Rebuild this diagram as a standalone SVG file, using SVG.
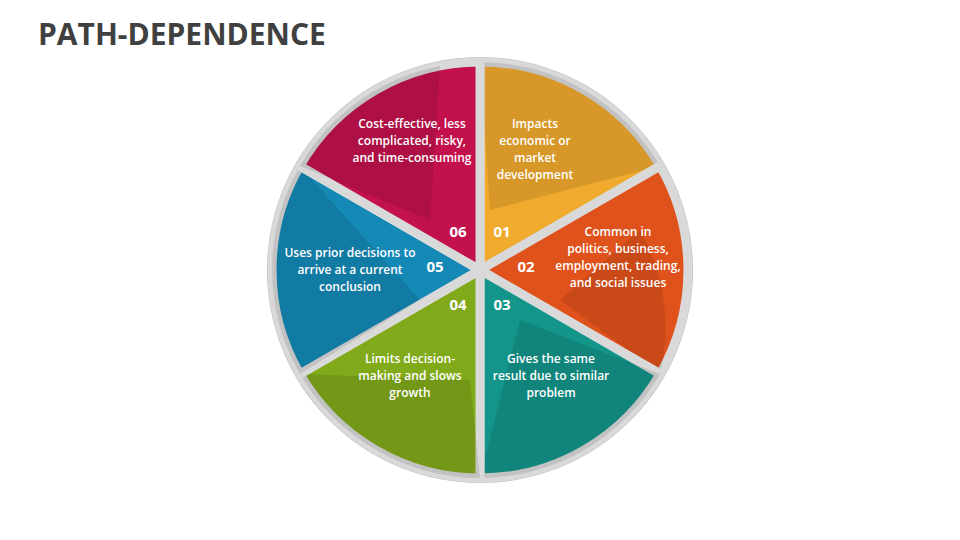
<svg xmlns="http://www.w3.org/2000/svg" width="960" height="540" viewBox="0 0 960 540">
<style>
.w{stroke:#D9D9D9;stroke-width:9;stroke-linejoin:round}
.t{font-family:"Open Sans","Liberation Sans",sans-serif;font-size:12px;font-weight:600;fill:#fff;text-anchor:middle}
.n{font-family:"Open Sans","Liberation Sans",sans-serif;font-size:15px;font-weight:700;fill:#fff;text-anchor:middle}
.s{fill:#000;opacity:0.1}
</style>
<rect width="960" height="540" fill="#fff"/>
<text x="38" y="45" font-family="'Open Sans','Liberation Sans',sans-serif" font-size="30" font-weight="700" fill="#404040">PATH-DEPENDENCE</text>
<circle cx="480" cy="270" r="212" fill="#D9D9D9" stroke="#BFBFBF" stroke-width="2"/>
<g id="n1"><path class="w" d="M480 270 L480 62 A208 208 0 0 1 660.1 166 Z" fill="#F0AA2E"/><path class="s" d="M480 62 A208 208 0 0 1 660.1 166 L490 210 Z"/>
<text class="t"><tspan x="535" y="128">Impacts</tspan><tspan x="535" y="145">economic or</tspan><tspan x="535" y="162">market</tspan><tspan x="535" y="179">development</tspan></text><text class="n" x="502" y="237">01</text></g>
<g id="n2"><path class="w" d="M480 270 L660.1 166 A208 208 0 0 1 660.1 374 Z" fill="#E0521C"/><path class="s" d="M640 230 A200 200 0 0 1 660.1 374 L560 300 Z"/>
<text class="t"><tspan x="618" y="236">Common in</tspan><tspan x="618" y="253">politics, business,</tspan><tspan x="618" y="270">employment, trading,</tspan><tspan x="618" y="287">and social issues</tspan></text><text class="n" x="526" y="272">02</text></g>
<g id="n3"><path class="w" d="M480 270 L660.1 374 A208 208 0 0 1 480 478 Z" fill="#13958A"/><path class="s" d="M480 478 A208 208 0 0 0 660.1 374 L520 320 Z"/>
<text class="t"><tspan x="551" y="363">Gives the same</tspan><tspan x="551" y="380">result due to similar</tspan><tspan x="551" y="397">problem</tspan></text><text class="n" x="502" y="310">03</text></g>
<g id="n4"><path class="w" d="M480 270 L480 478 A208 208 0 0 1 299.9 374 Z" fill="#80AA1A"/><path class="s" d="M299.9 374 A208 208 0 0 0 480 478 L470 380 Z"/>
<text class="t"><tspan x="410" y="363">Limits decision-</tspan><tspan x="410" y="380">making and slows</tspan><tspan x="410" y="397">growth</tspan></text><text class="n" x="458" y="310">04</text></g>
<g id="n5"><path class="w" d="M480 270 L299.9 374 A208 208 0 0 1 299.9 166 Z" fill="#1589B6"/><path class="s" d="M299.9 166 A208 208 0 0 0 299.9 374 L420 300 Z"/>
<text class="t"><tspan x="350" y="257">Uses prior decisions to</tspan><tspan x="350" y="274">arrive at a current</tspan><tspan x="350" y="291">conclusion</tspan></text><text class="n" x="435" y="272">05</text></g>
<g id="n6"><path class="w" d="M480 270 L299.9 166 A208 208 0 0 1 480 62 Z" fill="#C2114C"/><path class="s" d="M299.9 166 A208 208 0 0 1 440 66 L430 220 Z"/>
<text class="t"><tspan x="412" y="128">Cost-effective, less</tspan><tspan x="412" y="145">complicated, risky,</tspan><tspan x="412" y="162">and time-consuming</tspan></text><text class="n" x="458" y="237">06</text></g>
<g id="connectors"/>
</svg>
